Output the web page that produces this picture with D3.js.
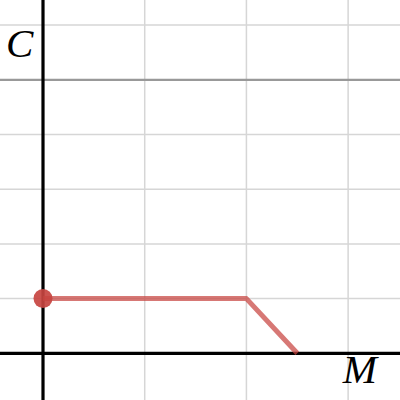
<!DOCTYPE html>
<html><head><meta charset="utf-8">
<script src="https://cdn.jsdelivr.net/npm/d3@7"></script>
<style>html,body{margin:0;padding:0;background:#fff;}svg{display:block;}</style>
</head><body>
<svg id="chart" width="400" height="400"></svg>
<script>
// Data
const xGridTicks = [0, 1, 2, 3];
const yGridTicks = [0, 1, 2, 3, 4, 5, 6];
const costM = [0, 2, 2.5];      // M values of the piecewise curve
const costC = [1, 1, 0];        // C values of the piecewise curve
const startPoint = [0, 1];      // filled point
const levelC = [5];             // gray horizontal line
const xLabel = "M";
const yLabel = "C";

const W = 400, H = 400;
const x = d3.scaleLinear().domain([-0.4228, 3.510]).range([0, W]);
const y = d3.scaleLinear().domain([-0.854, 6.459]).range([H, 0]);

const svg = d3.select("#chart");

// gridlines via axes
svg.append("g")
  .attr("transform", `translate(0,${H})`)
  .call(d3.axisBottom(x).tickValues(xGridTicks).tickSize(-H).tickFormat("").offset(0))
  .call(g => g.select(".domain").remove())
  .call(g => g.selectAll("line").attr("stroke", "#d6d6d6").attr("stroke-width", 1.5));
svg.append("g")
  .call(d3.axisLeft(y).tickValues(yGridTicks).tickSize(-W).tickFormat("").offset(0))
  .call(g => g.select(".domain").remove())
  .call(g => g.selectAll("line").attr("stroke", "#d6d6d6").attr("stroke-width", 1.5));

// gray level line
svg.selectAll(".level").data(levelC).enter().append("line")
  .attr("x1", 0).attr("x2", W)
  .attr("y1", d => y(d)).attr("y2", d => y(d))
  .attr("stroke", "#999").attr("stroke-width", 2.2);

// axes
svg.append("line").attr("x1", 0).attr("x2", W).attr("y1", y(0)).attr("y2", y(0))
  .attr("stroke", "#000").attr("stroke-width", 3.2);
svg.append("line").attr("x1", x(0)).attr("x2", x(0)).attr("y1", 0).attr("y2", H)
  .attr("stroke", "#000").attr("stroke-width", 3.2);

// curve
const pts = costM.map((m, i) => [m, costC[i]]);
svg.append("path")
  .datum(pts)
  .attr("d", d3.line().x(d => x(d[0])).y(d => y(d[1])))
  .attr("fill", "none")
  .attr("stroke", "#c74440")
  .attr("stroke-opacity", 0.72)
  .attr("stroke-width", 5)
  .attr("stroke-linejoin", "round");

svg.append("circle")
  .attr("cx", x(startPoint[0])).attr("cy", y(startPoint[1]))
  .attr("r", 9.5)
  .attr("fill", "#c74440").attr("fill-opacity", 0.92);

// labels
svg.append("text").text(yLabel)
  .attr("x", 6).attr("y", 57)
  .attr("font-family", "'Liberation Serif', 'DejaVu Serif', serif")
  .attr("font-style", "italic").attr("font-size", 41).attr("fill", "#000");
svg.append("text").text(xLabel)
  .attr("x", 377).attr("y", 383).attr("text-anchor", "end")
  .attr("font-family", "'Liberation Serif', 'DejaVu Serif', serif")
  .attr("font-style", "italic").attr("font-size", 41).attr("fill", "#000");
</script>
</body></html>
